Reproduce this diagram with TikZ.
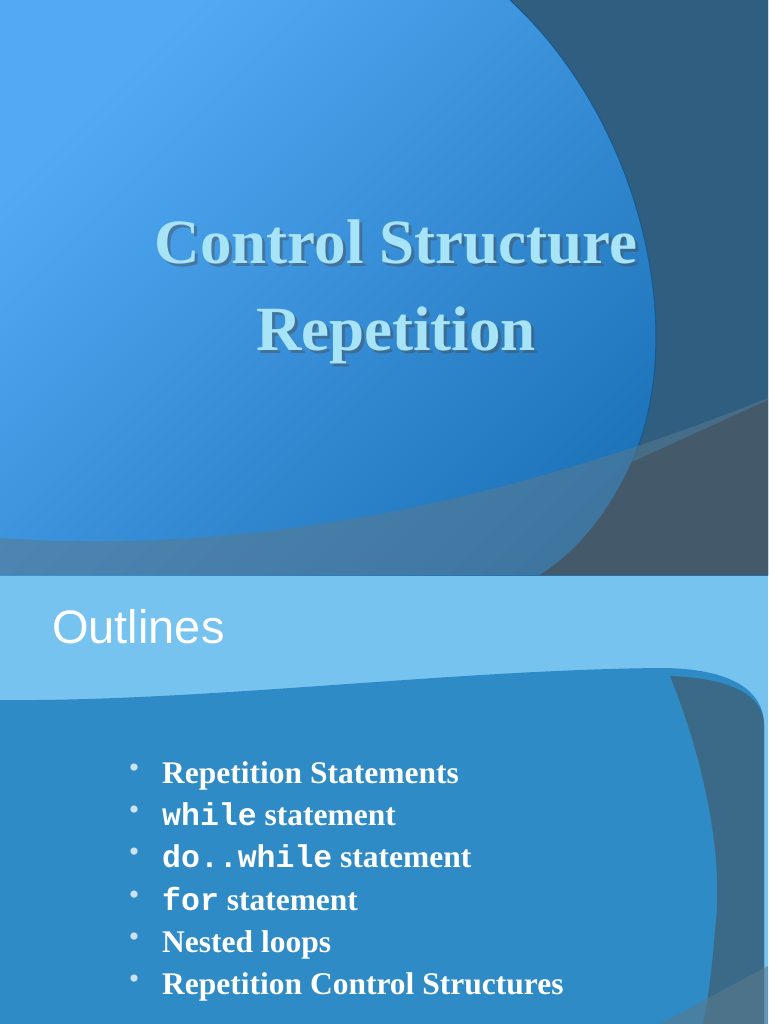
\documentclass[tikz,border=0pt]{standalone}
\usepackage{fontspec}
\setmainfont{Liberation Serif}
\newfontfamily\sansf{Liberation Sans}
\newfontfamily\monof{Liberation Mono}
\definecolor{bgA}{HTML}{52AAF5}
\definecolor{bgB}{HTML}{1A70B5}
\definecolor{darkR}{HTML}{2F5E80}
\definecolor{band}{HTML}{5A7A8E}
\definecolor{greyD}{HTML}{465662}
\definecolor{titleC}{HTML}{A8E4F8}
\definecolor{lightB}{HTML}{75C3EE}
\definecolor{midB}{HTML}{2F8BC6}
\definecolor{darkS}{HTML}{3B6A88}
\tikzset{
  title/.style={font=\bfseries\fontsize{63}{66}\selectfont, text=titleC, inner sep=0},
  shadowt/.style={font=\bfseries\fontsize{63}{66}\selectfont, text=black!70, opacity=0.45, inner sep=0},
  item/.style={anchor=base west, font=\bfseries\fontsize{31.5}{34}\selectfont, text=white, inner sep=0},
  bul/.style={anchor=base, font=\fontsize{30}{32}\selectfont, text=white!75!midB, inner sep=0}
}
\newcommand{\cd}[1]{{\monof\bfseries #1}}
\begin{document}
\begin{tikzpicture}[x=1pt,y=-1pt]
\useasboundingbox (0,0) rectangle (768,1024);
% slide 1
\shade[top color=bgA, bottom color=bgB, shading angle=45] (0,0) rectangle (768,575);
\fill[darkR] (510,0) .. controls (640,120) and (690,330) .. (632,462) -- (768,400) -- (768,0) -- cycle;
\draw[bgB!80!black, line width=1pt] (510,0) .. controls (640,120) and (690,330) .. (632,462) .. controls (610,510) and (580,550) .. (540,575);
\fill[band, opacity=0.55] (0,538) .. controls (250,555) and (500,505) .. (768,398) -- (768,575) -- (0,575) -- cycle;
\fill[greyD, opacity=0.85] (632,462) .. controls (610,510) and (580,550) .. (540,575) -- (768,575) -- (768,400) -- cycle;
\node[shadowt] at (399,245) {Control Structure};
\node[title] (t1) at (396,242) {Control Structure};
\node[shadowt] at (399,338) {Repetition};
\node[title] (t2) at (396,335) {Repetition};
% slide 2
\fill[lightB] (0,576) rectangle (768,1024);
\fill[midB] (0,700) .. controls (200,702) and (450,670) .. (660,668) .. controls (730,668) and (764,690) .. (764,725) -- (764,1024) -- (0,1024) -- cycle;
\fill[darkS] (670,676) .. controls (700,750) and (725,850) .. (715,930) .. controls (712,970) and (708,1000) .. (703,1024) -- (764,1024) -- (764,725) .. controls (764,695) and (730,678) .. (670,676) -- cycle;
\fill[band, opacity=0.6] (660,1024) -- (768,966) -- (768,1024) -- cycle;
\node[anchor=base west, inner sep=0, font=\sansf\fontsize{47}{50}\selectfont, text=white] (out) at (52,643) {Outlines};
\foreach \y/\t [count=\i] in {783/{Repetition Statements},825/{\cd{while} statement},867/{\cd{do..while} statement},910/{\cd{for} statement},952/{Nested loops},994/{Repetition Control Structures}}{
  \node[bul] (b\i) at (134,\y-6) {•};
  \node[item] (i\i) at (162,\y) {\t};
}
\end{tikzpicture}
\end{document}
